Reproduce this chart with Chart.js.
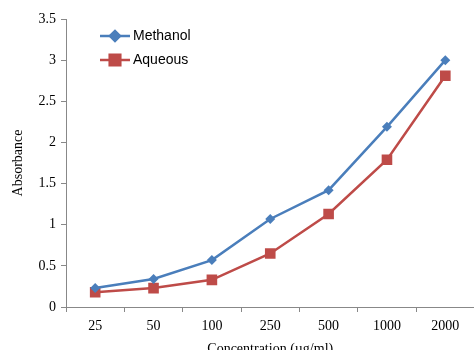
<!DOCTYPE html>
<html>
<head>
<meta charset="utf-8">
<script src="https://cdn.jsdelivr.net/npm/chart.js@4"></script>
<style>
  html, body { margin: 0; padding: 0; background: #fff; overflow: hidden; }
  #wrap { width: 474px; height: 350px; overflow: hidden; }
</style>
</head>
<body>
<div id="wrap"><canvas id="myChart" width="482" height="358"></canvas></div>
<script>
const concentrations = ["25", "50", "100", "250", "500", "1000", "2000"];
const methanol = [0.23, 0.34, 0.57, 1.07, 1.42, 2.19, 3.0];
const aqueous = [0.18, 0.23, 0.33, 0.65, 1.13, 1.79, 2.81];
const yTicks = [0, 0.5, 1, 1.5, 2, 2.5, 3, 3.5];

const blue = "#4A7EBB";
const red = "#BE4B48";
const serif = "'Liberation Serif', 'DejaVu Serif', serif";

// legend drawn inside the plot, top-left
const insideLegend = {
  id: "insideLegend",
  afterDraw(chart) {
    const ctx = chart.ctx;
    const area = chart.chartArea;
    ctx.save();
    chart.data.datasets.forEach((ds, i) => {
      let y = area.top + 17 + i * 24;
      let x0 = area.left + 34;
      ctx.strokeStyle = ds.borderColor;
      ctx.lineWidth = 2.5;
      ctx.beginPath();
      ctx.moveTo(x0, y);
      ctx.lineTo(x0 + 30, y);
      ctx.stroke();
      Chart.helpers.drawPoint(ctx, {
        pointStyle: ds.pointStyle,
        radius: ds.pointRadius,
        borderWidth: 1
      }, x0 + 15, y);
      ctx.fillStyle = ds.borderColor;
      ctx.fill();
      ctx.fillStyle = "#000";
      ctx.font = "14px 'Liberation Sans', Arial, sans-serif";
      ctx.textBaseline = "middle";
      ctx.textAlign = "left";
      ctx.fillText(ds.label, x0 + 33, y);
    });
    ctx.restore();
  }
};

const ctx = document.getElementById("myChart");
const myChart = new Chart(ctx, {
  type: "line",
  data: {
    labels: concentrations,
    datasets: [
      {
        label: "Methanol",
        data: methanol,
        borderColor: blue,
        backgroundColor: blue,
        borderWidth: 2.5,
        pointStyle: "rectRot",
        pointRadius: 5,
        pointBorderWidth: 0,
        tension: 0
      },
      {
        label: "Aqueous",
        data: aqueous,
        borderColor: red,
        backgroundColor: red,
        borderWidth: 2.5,
        pointStyle: "rect",
        pointRadius: 7.5,
        pointBorderWidth: 0,
        tension: 0
      }
    ]
  },
  options: {
    responsive: false,
    animation: false,
    layout: { padding: { top: 19, right: 0, left: 0, bottom: 0 } },
    plugins: {
      legend: { display: false },
      tooltip: { enabled: false }
    },
    scales: {
      x: {
        offset: true,
        grid: {
          offset: true,
          drawOnChartArea: false,
          drawTicks: true,
          tickLength: 5,
          color: "#888"
        },
        border: { color: "#888", width: 1 },
        ticks: {
          color: "#000",
          font: { family: serif, size: 14 },
          padding: 6,
          maxRotation: 0
        },
        title: {
          display: true,
          text: "Concentration (µg/ml)",
          color: "#000",
          font: { family: serif, size: 14 },
          padding: { top: 4, bottom: 0 }
        },
        afterFit(scale) { scale.height = 51; }
      },
      y: {
        min: 0,
        max: 3.5,
        afterBuildTicks(scale) {
          scale.ticks = yTicks.map(v => ({ value: v }));
        },
        grid: {
          drawOnChartArea: false,
          drawTicks: true,
          tickLength: 5,
          color: "#888"
        },
        border: { color: "#888", width: 1 },
        ticks: {
          color: "#000",
          font: { family: serif, size: 14 },
          padding: 5,
          callback: (v) => String(v)
        },
        title: {
          display: true,
          text: "Absorbance",
          color: "#000",
          font: { family: serif, size: 14 },
          padding: { top: 10, bottom: 0 }
        },
        afterFit(scale) { scale.width = 66; }
      }
    }
  },
  plugins: [insideLegend]
});
</script>
</body>
</html>
